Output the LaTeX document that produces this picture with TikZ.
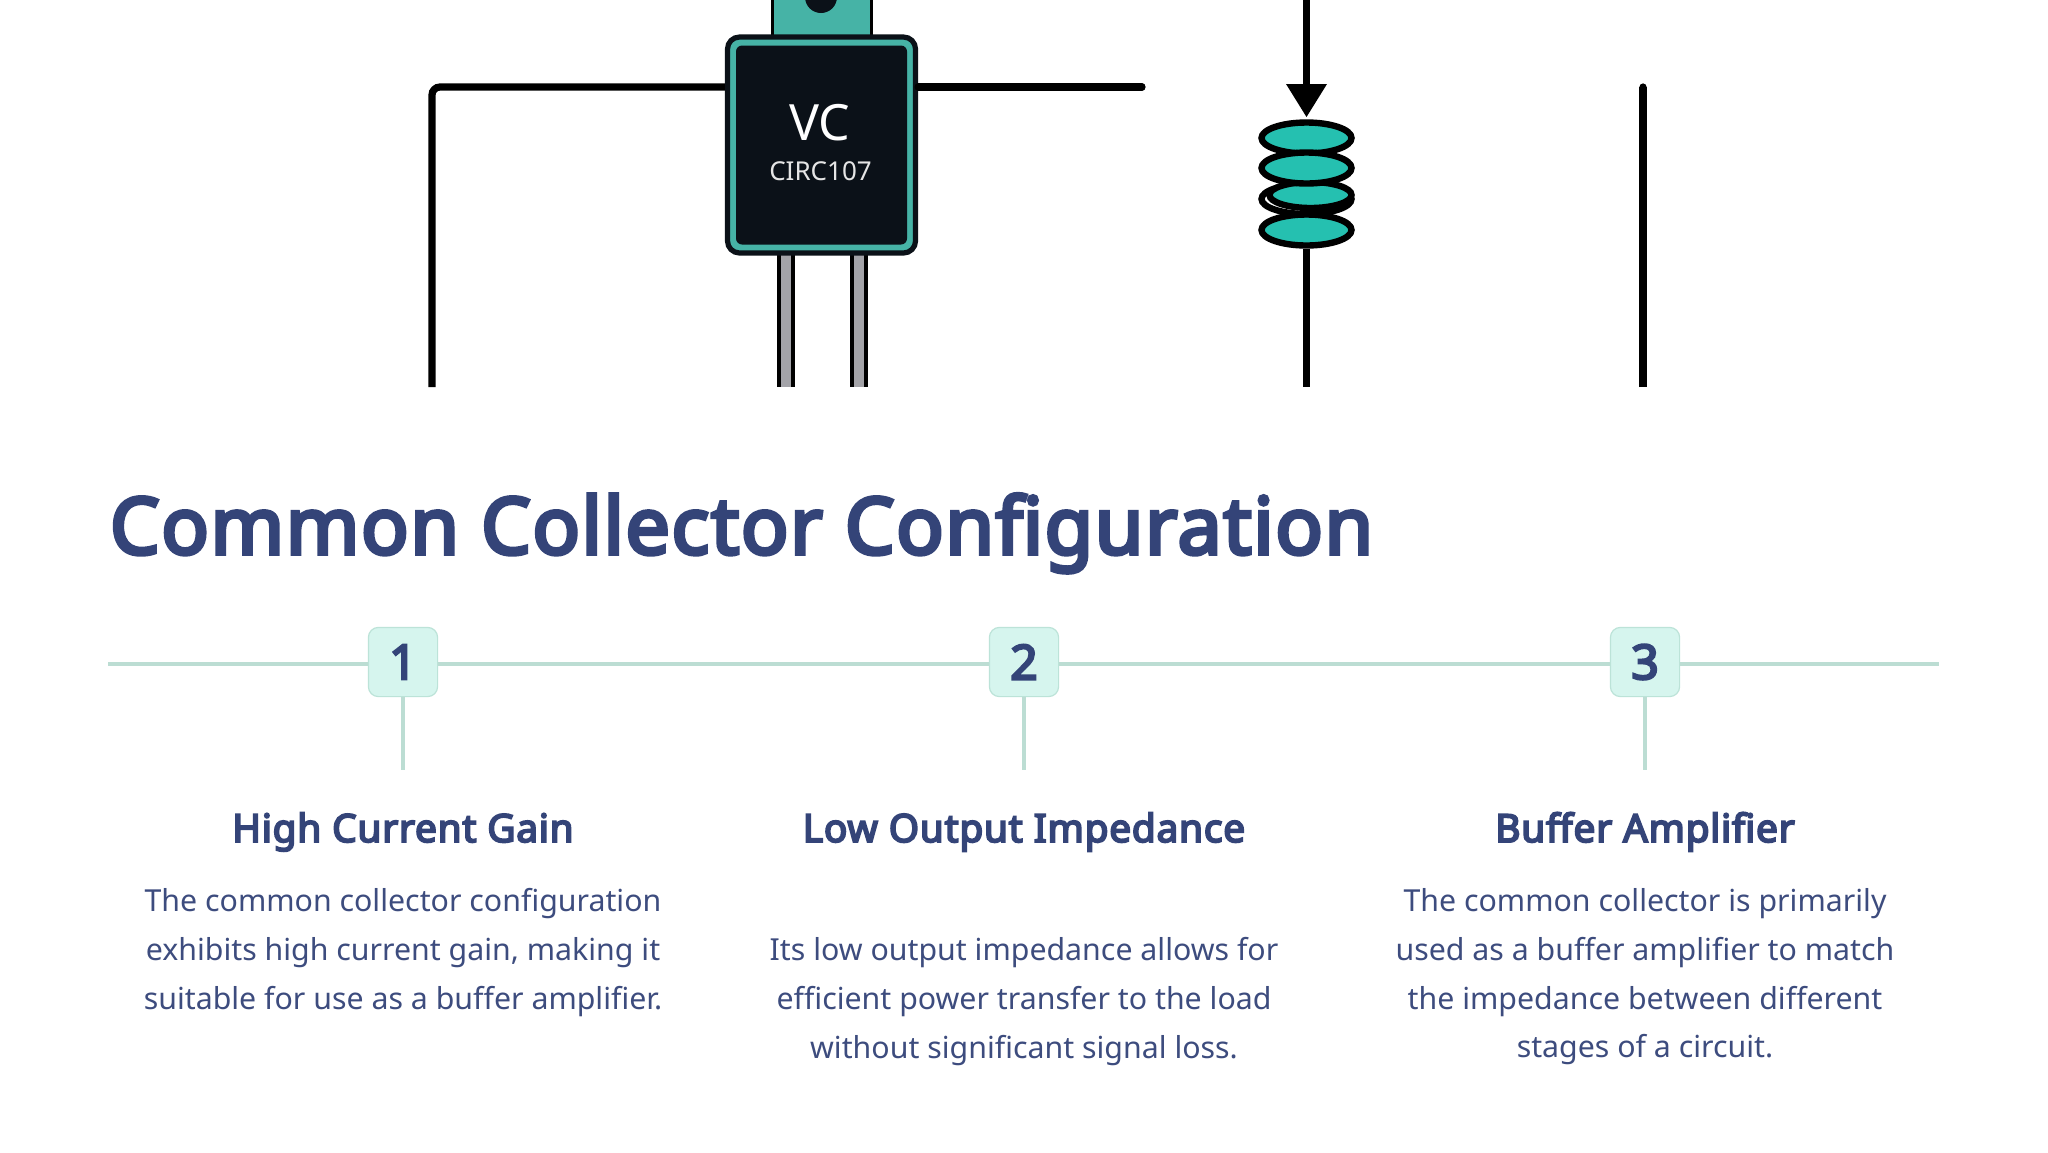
\documentclass[tikz,border=0pt]{standalone}
\usepackage{fontspec}
\setmainfont{Noto Sans}[BoldFont={Noto Sans},BoldFeatures={FakeBold=4.8,LetterSpace=2}]
\definecolor{navy}{HTML}{344478}
\definecolor{bodyc}{HTML}{3D4C7E}
\definecolor{rail}{HTML}{BCDDD3}
\definecolor{badge}{HTML}{D6F5EE}
\definecolor{badgeline}{HTML}{BCE3D8}
\definecolor{tabteal}{HTML}{46B3A6}
\definecolor{coilteal}{HTML}{25C0B0}
\definecolor{ink}{HTML}{0B1118}
\definecolor{leadg}{HTML}{A3A3A8}
\usetikzlibrary{shapes.geometric,arrows.meta}
\tikzset{
  wire/.style={draw=black,line width=3.6pt,line cap=round},
  wirecut/.style={draw=black,line width=3.6pt,line cap=butt},
  railline/.style={draw=rail,line width=2pt},
  badgebox/.style={draw=badgeline,line width=0.6pt,fill=badge,rounded corners=5pt,minimum width=34.6pt,minimum height=34.6pt,inner sep=0pt,text=navy,font=\fontsize{24}{24}\selectfont\bfseries},
  heading/.style={text=navy,anchor=base,font=\fontsize{19.4}{24}\selectfont\bfseries,inner sep=0pt},
  bodytext/.style={text=bodyc,anchor=north,align=center,inner sep=0pt,font=\fontsize{15.15}{24.4}\selectfont},
  coilturn/.style={ellipse,draw=black,line width=3.2pt,fill=coilteal,minimum width=45pt,minimum height=15.5pt,inner sep=0pt},
  pinedge/.style={draw=black,line width=2.2pt},
}
\begin{document}
\begin{tikzpicture}[x=0.5pt,y=-0.5pt]
\useasboundingbox[fill=white] (0,0) rectangle (2048,1152);
% free ends
\coordinate (wl) at (432,87);
\coordinate (wlb) at (432,387);
\coordinate (wr) at (1142,87);
\coordinate (atop) at (1306.5,0);
\coordinate (cbot) at (1306.5,387);
\coordinate (rt) at (1643,87);
\coordinate (rb) at (1643,387);
% transistor
\path[fill=tabteal,draw=black,line width=1.5pt] (772,-6) rectangle (871,40);
\fill[ink] (821,-3) circle (8pt);
\fill[leadg] (780,250) rectangle (792,387);
\fill[leadg] (852,250) rectangle (864,387);
\draw[pinedge] (779,250) -- (779,387) (793,250) -- (793,387) (852,250) -- (852,387) (866,250) -- (866,387);
\node[draw=ink,line width=2.6pt,fill=tabteal,rounded corners=6pt,minimum width=94pt,minimum height=108pt,inner sep=0pt] (pkg) at (821.5,145) {};
\node[fill=ink,rounded corners=3pt,minimum width=85.5pt,minimum height=99.5pt,inner sep=0pt] (core) at (821.5,145) {};
\node[text=white,font=\fontsize{25}{25}\selectfont,inner sep=0pt,anchor=base] (vc) at (820,140) {VC};
\node[text=white!90!black,font=\fontsize{13}{13}\selectfont,inner sep=0pt,anchor=base] (circ) at (820.5,180) {CIRC107};
% wires
\draw[wire,rounded corners=4pt,line cap=butt] (pkg.west |- wl) -- (wl) -- (wlb);
\draw[wire] (pkg.east |- wr) -- (wr);
% coil
\draw[wirecut] (atop) -- (1306.5,90);
\node[coilturn] (c4) at (1306.5,230) {};
\node[coilturn,fill=white,minimum height=15pt] (c3b) at (1306.5,199) {};
\node[coilturn,minimum width=41pt,minimum height=13pt] (c3) at (1310.5,195) {};
\node[coilturn] (c1) at (1306.5,138) {};
\node[coilturn] (c2) at (1306.5,168) {};
\fill[black] (1286,84) -- (1327,84) -- (1306.5,117) -- cycle;
\draw[wirecut] (c4.south) -- (cbot);
\draw[wirecut] (rb) -- (rt);
\fill[black] (rt) circle (1.8pt);
% title
\node[text=navy,anchor=base west,inner sep=0pt,font=\fontsize{39.4}{48}\selectfont\bfseries] (title) at (109.5,554) {Common Collector Configuration};
% timeline
\coordinate (railL) at (108,664);
\coordinate (railR) at (1939,664);
\draw[railline] (railL) -- (railR);
\coordinate (d1) at (403,770);
\coordinate (d2) at (1024,770);
\coordinate (d3) at (1645,770);
\node[badgebox] (b1) at (403,662) {1};
\node[badgebox] (b2) at (1024,662) {2};
\node[badgebox] (b3) at (1645,662) {3};
\draw[railline] (b1) -- (d1);
\draw[railline] (b2) -- (d2);
\draw[railline] (b3) -- (d3);
% headings
\node[heading] (h1) at (403,842) {High Current Gain};
\node[heading] (h2) at (1024,842) {Low Output Impedance};
\node[heading] (h3) at (1645,842) {Buffer Amplifier};
% text
\node[bodytext] (t1) at (403,888) {The common collector configuration\\exhibits high current gain, making it\\suitable for use as a buffer amplifier.};
\node[bodytext] (t2) at (1024,937) {Its low output impedance allows for\\efficient power transfer to the load\\without significant signal loss.};
\node[bodytext] (t3) at (1645,888) {The common collector is primarily\\used as a buffer amplifier to match\\the impedance between different\\stages of a circuit.};
\end{tikzpicture}
\end{document}
